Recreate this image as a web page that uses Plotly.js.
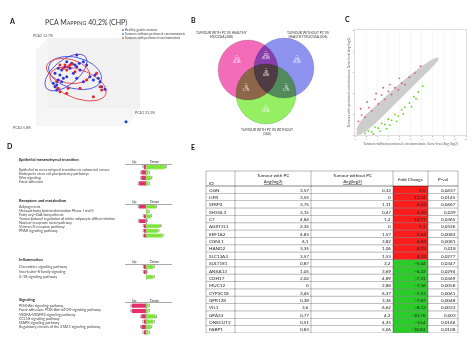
<!DOCTYPE html>
<html>
<head>
<meta charset="utf-8">
<script src="https://cdn.plot.ly/plotly-3.0.1.min.js"></script>
<style>
html,body{margin:0;padding:0;background:#fff;}
#chart{width:474px;height:347px;}
</style>
</head>
<body>
<div id="chart"></div>
<script>
// ---------- A: PCA mapping (projected PC scores) ----------
const pcaLegend = ['Healthy gastric mucosa', 'Tumours without peritoneal carcinomatosis', 'Tumours with peritoneal carcinomatosis'];
const pcaHealthyX = [-17.9, -21.8, -15.9, -32.1, -26.9, -34.6, -28.2, -32.1, -34.6, -29.5, -12.8, -3.8, 0, 3.8, -15.4, -10.3, -17.9];
const pcaHealthyY = [23.2, 16.2, 16.2, 12.0, 13.3, 7.7, 3.5, 2.1, -3.5, 0.7, 0.7, 6.3, 0.7, -5.7, 10.5, 14.7, 13.3];
const pcaNoPcX = [-25.6, -19.2, -12.8, -29.5, -23.1, -30.8, -25.6, -35.9, -33.3, -17.9, -7.7, -1.3, 1.3, -5.1, -20.5, -33.3, 20];
const pcaNoPcY = [17.5, 14.7, 17.5, 10.5, 12.0, 6.3, 4.9, -0.7, -6.3, 3.5, 4.9, 3.5, -3.5, 2.1, 7.7, -2.1, -33];
const pcaPcX = [-21, -24.4, -25.6, -26.9, -30.8, -19.2, -33.3, -32.1, -24.4, -30.8, -25.6, -15.4, -5.1, -2.6, 0, 1.3, -23.1, -28.2, -10.3];
const pcaPcY = [15.5, 13.3, 10.5, 14.7, 14.7, 9.1, 0.7, -4.9, -4.9, -7.7, -9.1, -4.9, -12.0, 7.7, -3.5, -6.3, 14.7, 12.0, 2.1];
// group confidence ellipses: 0 healthy, 1 without PC, 2 with PC
const ellGroup = [0, 1, 2, 2];
const ellCx = [-26.2, -19.2, -16.9, -24.6];
const ellCy = [8.4, 8.0, -1.3, 9.7];
const ellA = [20, 21, 23, 17];
const ellB = [10, 13, 12, 10];
const ellAngle = [43, -18, -23, -15];

// ---------- B: Venn diagram of differentially expressed genes ----------
const vennSets = ['TUMOUR WITH PC VS HEALTHY<br>MUCOSA (308)', 'TUMOUR WITHOUT PC VS<br>HEALTHY MUCOSA (306)', 'TUMOUR WITH PC VS WITHOUT<br>(160)'];
const vennRegions = ['withPc', 'withoutPc', 'pcVsNoPc', 'withPc&withoutPc', 'withPc&pcVsNoPc', 'withoutPc&pcVsNoPc', 'all'];
const vennCounts = [150, 148, 112, 120, 10, 10, 28];

// ---------- C: scatter of average expression ----------
const bandX = [0.3, 1, 2, 4, 6, 8, 10, 12, 14, 15];
const bandUpper = [1.3, 2.6, 3.9, 5.9, 7.8, 9.7, 11.5, 13.1, 14.5, 14.8];
const bandLower = [0.0, 0.1, 0.7, 2.5, 4.5, 6.6, 8.7, 10.9, 13.0, 14.2];
const upX = [0.6, 1.2, 1.8, 2.5, 3.0, 3.6, 4.2, 4.8, 5.4, 6.0, 6.6, 7.2, 7.8, 8.4, 9.0, 2.2, 1.0, 3.8, 6.3, 9.8, 10.8, 11.8, 5.1, 8.0];
const upY = [2.6, 3.8, 3.4, 5.2, 4.6, 6.8, 5.9, 7.6, 6.8, 8.3, 7.7, 9.0, 8.6, 9.9, 9.6, 6.3, 5.0, 7.9, 9.6, 11.0, 11.8, 13.1, 9.0, 10.8];
const downX = [1.8, 2.4, 3.0, 3.6, 4.2, 4.8, 5.4, 6.0, 6.6, 7.2, 7.8, 8.4, 9.0, 9.8, 10.6, 11.4, 12.2, 3.3, 4.5, 6.3, 7.5, 8.7, 10.2, 11.0, 5.7];
const downY = [0.3, 0.8, 0.6, 1.5, 1.3, 2.2, 2.0, 3.0, 2.8, 3.9, 3.6, 4.8, 5.3, 6.1, 7.3, 8.2, 9.3, 0.2, 0.7, 1.9, 2.6, 4.0, 5.4, 6.9, 1.2];

// ---------- D: pathway enrichment, up / down regulated genes ----------
const dGroups = ['Epithelial mesenchymal transition', 'Receptors and metabolism', 'Inflammation', 'Signaling'];
const dPath1 = ['Epithelial to mesenchymal transition in colorectal cancer', 'Embryonic stem cell pluripotency pathways', 'Wnt signaling', 'Focal adhesion'];
const dUp1 = [1, 2, 2, 3];
const dDown1 = [8, 1, 2, 1];
const dPath2 = ['Adipogenesis', 'Metapathway biotransformation Phase I and II', 'Fatty acyl-CoA biosynthesis', 'Transcriptional regulation of white adipocyte differentiation', 'Nuclear receptors meta-pathway', 'Vitamin D receptor pathway', 'PPAR signaling pathway'];
const dUp2 = [3, 0, 1, 3, 1, 1, 1];
const dDown2 = [4, 1, 2, 0, 6, 5, 7];
const dPath3 = ['Chemokine signaling pathway', 'Interleukin-8 family signaling', 'IL-18 signaling pathway'];
const dUp3 = [1, 1, 0];
const dDown3 = [3, 0, 3];
const dPath4 = ['PI3K-Akt signaling pathway', 'Focal adhesion: PI3K-Akt-mTOR-signaling pathway', 'VEGFA-VEGFR2 signaling pathway', 'CCL18 signaling pathway', 'MAPK signaling pathway', 'Regulatory circuits of the STAT3 signaling pathway'];
const dUp4 = [6, 6, 2, 1, 2, 1];
const dDown4 = [1, 1, 4, 3, 2, 1];

// ---------- E: top differentially expressed genes ----------
const tableHeader = ['ID', 'Tumour with PC', 'Tumour without PC', 'Fold Change', 'P-val'];
const geneIds = ['OGN', 'LIFR', 'SFRP2', 'SH3GL3', 'C7', 'AGXT2L1', 'EEF1A2', 'CGNL1', 'HAND2', 'SLC13A3', 'SULT1E1', 'ANXA13', 'CDH17', 'MUC12', 'CYP2C18', 'GPR128', 'VIL1', 'GPA33', 'ONECUT2', 'FABP1'];
const avgWithPc = [3.57, 3.55, 3.75, 3.15, 4.84, 2.35, 4.83, 6.1, 3.35, 3.57, 0.87, 1.05, 2.02, 0, 3.45, 0.38, 3.6, 0.77, 0.51, 0.83];
const avgWithoutPc = [0.32, 0, 1.11, 0.47, 1.2, 0, 1.57, 3.82, 1.06, 1.53, 3.2, 3.69, 4.89, 2.88, 6.37, 3.36, 6.62, 4.2, 4.25, 5.06];
const foldChange = [9.5, 11.74, 6.22, 6.35, 12.71, 5.1, 9.64, 4.83, 4.75, 4.12, -5.04, -6.22, -7.31, -7.36, -7.53, -7.87, -8.12, -10.76, -13.4, -18.83];
const pValue = ['0,0437', '0,0145', '0,0467', '0,039', '0,0365', '0,0326', '0,0083', '0,0081', '0,018', '0,0277', '0,0347', '0,0294', '0,0369', '0,0058', '0,0061', '0,0048', '0,0033', '0,003', '0,0166', '0,0108'];

// ================= drawing =================
const W = 474, H = 347;
const FONT = 'Lato, "Open Sans", sans-serif';
const fx = x => x / W;
const fy = y => 1 - y / H;
const annotations = [];
function txt(t, x, y, o) {
  annotations.push(Object.assign({
    text: t, x: fx(x), y: fy(y), xref: 'paper', yref: 'paper', showarrow: false,
    xanchor: 'left', yanchor: 'middle', borderpad: 0,
    font: {size: 4, color: '#333', family: FONT}
  }, o || {}));
}
const shapes = [];
function poly(pts, fill) {
  const d = pts.map((p, i) => (i ? 'L' : 'M') + fx(p[0]) + ',' + fy(p[1])).join(' ') + ' Z';
  shapes.push({type: 'path', xref: 'paper', yref: 'paper', path: d, fillcolor: fill, line: {width: 0}, layer: 'below'});
}
function hline(x0, x1, y, color, w) {
  shapes.push({type: 'line', xref: 'paper', yref: 'paper', x0: fx(x0), x1: fx(x1), y0: fy(y), y1: fy(y), line: {color: color, width: w}, layer: 'above'});
}
function vline(x, y0, y1, color, w) {
  shapes.push({type: 'line', xref: 'paper', yref: 'paper', x0: fx(x), x1: fx(x), y0: fy(y0), y1: fy(y1), line: {color: color, width: w}, layer: 'above'});
}

// panel letters
[['A', 12, 21], ['B', 193, 20], ['C', 347, 19], ['D', 10, 146], ['E', 193, 147]].forEach(l =>
  txt('<b>' + l[0] + '</b>', l[1], l[2], {font: {size: 7, color: '#111', family: FONT}, xanchor: 'center'}));

const traces = [];

// ---- A ----
poly([[48, 38], [140, 38], [140, 108], [48, 108]], '#f1f1f1');
poly([[36, 50], [48, 38], [48, 108], [36, 126]], '#f5f5f5');
poly([[36, 126], [48, 108], [140, 108], [128, 126]], '#f6f6f6');
const grpColors = ['#3b2fd6', '#1f3ae8', '#e5262b'];
const grpX = [pcaHealthyX, pcaNoPcX, pcaPcX], grpY = [pcaHealthyY, pcaNoPcY, pcaPcY];
for (let k = 0; k < ellCx.length; k++) {
  const ex = [], ey = [], th = ellAngle[k] * Math.PI / 180;
  for (let i = 0; i <= 72; i++) {
    const t = i / 72 * 2 * Math.PI;
    const u = ellA[k] * Math.cos(t), v = ellB[k] * Math.sin(t);
    ex.push(ellCx[k] + u * Math.cos(th) - v * Math.sin(th));
    ey.push(ellCy[k] + u * Math.sin(th) + v * Math.cos(th));
  }
  traces.push({x: ex, y: ey, xaxis: 'x', yaxis: 'y', mode: 'lines', type: 'scatter',
    line: {color: grpColors[ellGroup[k]], width: 0.8}, showlegend: false});
}
for (let g = 0; g < 3; g++) {
  traces.push({x: grpX[g], y: grpY[g], xaxis: 'x', yaxis: 'y', mode: 'markers', type: 'scatter',
    marker: {color: grpColors[g], size: 3}, showlegend: false});
  txt('<span style="color:' + grpColors[g] + '">●</span> ' + pcaLegend[g], 121, 29.5 + g * 4, {font: {size: 3.2, color: '#444', family: FONT}});
}
txt('PCA M<span style="font-size:5.4px">APPING</span> 40,2% (CHP)', 86, 22, {xanchor: 'center', font: {size: 7, color: '#333', family: FONT}});
txt('PCA2 12,7%', 32, 35, {font: {size: 3.6, color: '#555', family: FONT}});
txt('PCA1 23,2%', 134, 113, {font: {size: 3.6, color: '#555', family: FONT}});
txt('PCA3 5,8%', 12, 127, {font: {size: 3.6, color: '#555', family: FONT}});

// ---- B ----
const vennCirc = [[248, 70, '#f36cb9'], [284, 68, '#8d93ef'], [266, 94, '#94ef63']];
vennCirc.forEach(c => shapes.push({type: 'circle', xref: 'paper', yref: 'paper',
  x0: fx(c[0] - 30), x1: fx(c[0] + 30), y0: fy(c[1] + 30), y1: fy(c[1] - 30),
  fillcolor: c[2], line: {color: 'rgba(60,60,60,0.35)', width: 0.5}, layer: 'above'}));
const vennPos = [[237, 59], [297, 59], [266.7, 107], [266.7, 54], [246, 86], [286.7, 86], [266.7, 71]];
const vennTotal = vennCounts.reduce((a, b) => a + b, 0);
vennRegions.forEach((r, i) => txt('▪<br>' + vennCounts[i] + '<br>' + (100 * vennCounts[i] / vennTotal).toFixed(1).replace('.', ',') + '%',
  vennPos[i][0], vennPos[i][1], {xanchor: 'center', font: {size: 2.8, color: '#fff', family: FONT}}));
txt(vennSets[0], 222, 35, {xanchor: 'center', font: {size: 3.4, color: '#333', family: FONT}});
txt(vennSets[1], 308, 35, {xanchor: 'center', font: {size: 3.4, color: '#333', family: FONT}});
txt(vennSets[2], 267, 132, {xanchor: 'center', font: {size: 3.4, color: '#333', family: FONT}});

// ---- C ----
traces.push({x: bandX.concat(bandX.slice().reverse()), y: bandUpper.concat(bandLower.slice().reverse()),
  xaxis: 'x3', yaxis: 'y3', type: 'scatter', mode: 'lines', fill: 'toself', fillcolor: '#cdcdcd',
  line: {width: 0, color: '#cdcdcd'}, showlegend: false});
traces.push({x: upX, y: upY, xaxis: 'x3', yaxis: 'y3', type: 'scatter', mode: 'markers',
  marker: {color: '#ea4f86', size: 1.8}, showlegend: false});
traces.push({x: downX, y: downY, xaxis: 'x3', yaxis: 'y3', type: 'scatter', mode: 'markers',
  marker: {color: '#5ed61f', size: 1.8}, showlegend: false});

// ---- D ----
const dPaths = [dPath1, dPath2, dPath3, dPath4];
const dUps = [dUp1, dUp2, dUp3, dUp4];
const dDowns = [dDown1, dDown2, dDown3, dDown4];
const dHeadY = [159, 200, 259, 299.5];
const dTextY0 = [169, 206, 266.7, 305.7];
const dTextStep = [4.2, 4.13, 4.8, 4.15];
const dDomain = [[164.3, 186], [204.3, 238.1], [264.5, 279.5], [303, 335]];
const dUpDownY = [162, 201.6, 261.8, 300.6];
const layoutAxes = {};
for (let g = 0; g < 4; g++) {
  txt('<b>' + dGroups[g] + '</b>', 18, dHeadY[g], {font: {size: 4, color: '#222', family: FONT}});
  dPaths[g].forEach((p, i) => txt(p, 18, dTextY0[g] + i * dTextStep[g], {font: {size: 3.7, color: '#444', family: FONT}}));
  const ax = g + 4;
  traces.push({type: 'bar', orientation: 'h', y: dPaths[g], x: dUps[g].map(v => -v), text: dUps[g].map(String),
    textposition: 'outside', cliponaxis: false, textfont: {size: 3.6, color: '#333', family: FONT},
    marker: {color: '#e3306c', line: {width: 0}}, xaxis: 'x' + ax, yaxis: 'y' + ax, showlegend: false});
  traces.push({type: 'bar', orientation: 'h', y: dPaths[g], x: dDowns[g], text: dDowns[g].map(String),
    textposition: 'outside', cliponaxis: false, textfont: {size: 3.6, color: '#333', family: FONT},
    marker: {color: '#7fe33c', line: {color: '#c4f5a0', width: 0.4}}, xaxis: 'x' + ax, yaxis: 'y' + ax, showlegend: false});
  layoutAxes['xaxis' + ax] = {domain: [fx(125), fx(172)], range: [-9, 11], anchor: 'y' + ax, side: 'top',
    showline: true, linecolor: '#555', linewidth: 0.5, showticklabels: false, ticks: '', showgrid: false,
    zeroline: true, zerolinecolor: '#555', zerolinewidth: 0.5, fixedrange: true};
  layoutAxes['yaxis' + ax] = {domain: [fy(dDomain[g][1]), fy(dDomain[g][0])], anchor: 'x' + ax, type: 'category',
    categoryorder: 'array', categoryarray: dPaths[g], autorange: 'reversed', visible: false, fixedrange: true};
  txt('Up', 134, dUpDownY[g], {xanchor: 'center', font: {size: 3.4, color: '#333', family: FONT}});
  txt('Down', 149, dUpDownY[g], {font: {size: 3.4, color: '#333', family: FONT}});
}

// ---- E: table drawn on a category axis (one row per gene) ----
const colEdges = [206, 235, 311, 393, 428, 458];
const tTop = 171, tHead = 186, tBottom = 333;
const comma = v => String(v).replace('.', ',');
traces.push({type: 'heatmap', x: [tableHeader[3]], y: geneIds, z: foldChange.map(v => [v > 0 ? 1 : -1]),
  zmin: -1, zmax: 1, showscale: false, xaxis: 'x8', yaxis: 'y8',
  colorscale: [[0, '#2bcc29'], [0.5, '#2bcc29'], [0.5, '#fb1c1c'], [1, '#fb1c1c']]});
layoutAxes.xaxis8 = {domain: [fx(colEdges[3]), fx(colEdges[4])], anchor: 'y8', visible: false, fixedrange: true};
layoutAxes.yaxis8 = {domain: [fy(tBottom), fy(tHead)], anchor: 'x8', type: 'category', categoryorder: 'array',
  categoryarray: geneIds, range: [geneIds.length - 0.5, -0.5], visible: false, fixedrange: true};
const cellFont = {size: 4.6, color: '#222', family: FONT};
const cols = [geneIds, avgWithPc.map(comma), avgWithoutPc.map(comma), foldChange.map(comma), pValue];
geneIds.forEach((g, i) => {
  cols.forEach((c, j) => {
    const left = j === 0;
    annotations.push({text: c[i], xref: 'paper', yref: 'y8', x: fx(left ? colEdges[0] + 1.5 : colEdges[j + 1] - 1.5),
      y: g, xanchor: left ? 'left' : 'right', yanchor: 'middle', showarrow: false, borderpad: 0, font: cellFont});
  });
  shapes.push({type: 'line', xref: 'paper', yref: 'y8', x0: fx(colEdges[0]), x1: fx(colEdges[5]), y0: i + 0.5, y1: i + 0.5,
    line: {color: '#8a8a8a', width: 0.6}, layer: 'above'});
});
hline(colEdges[0], colEdges[5], tTop, '#8a8a8a', 0.6);
hline(colEdges[0], colEdges[5], tHead, '#555', 0.7);
colEdges.forEach(x => vline(x, tTop, tBottom, '#8a8a8a', 0.6));
txt(tableHeader[0], colEdges[0] + 1.5, 182.5, {font: cellFont});
txt(tableHeader[1] + '<br><u>Avg(log2)</u>', (colEdges[1] + colEdges[2]) / 2, 178.2, {xanchor: 'center', font: cellFont});
txt(tableHeader[2] + '<br><u>Avg(log2)</u>', (colEdges[2] + colEdges[3]) / 2, 178.2, {xanchor: 'center', font: cellFont});
txt(tableHeader[3], (colEdges[3] + colEdges[4]) / 2, 178.5, {xanchor: 'center', font: cellFont});
txt(tableHeader[4], (colEdges[4] + colEdges[5]) / 2, 178.5, {xanchor: 'center', font: cellFont});

const layout = Object.assign({
  width: W, height: H, margin: {l: 0, r: 0, t: 0, b: 0}, paper_bgcolor: '#fff', plot_bgcolor: 'rgba(0,0,0,0)',
  font: {family: FONT, color: '#333'}, showlegend: false, barmode: 'overlay', bargap: 0.22,
  xaxis: {domain: [fx(35), fx(165)], range: [-50, 50], visible: false, fixedrange: true, anchor: 'y'},
  yaxis: {domain: [fy(130), fy(35)], range: [-40, 40], visible: false, fixedrange: true, anchor: 'x'},
  xaxis3: {domain: [fx(355), fx(466)], range: [0, 20], anchor: 'y3', dtick: 2, showline: true, mirror: true,
    linecolor: '#c8c8c8', linewidth: 0.6, showgrid: true, gridcolor: '#f0f0f0', gridwidth: 0.5, zeroline: false,
    ticks: 'outside', ticklen: 1.5, tickcolor: '#bbb', tickfont: {size: 2.6, color: '#999'},
    title: {text: 'Tumours without peritoneal carcinomatosis, Gene-level Avg (log2)', font: {size: 3.3, color: '#666'}, standoff: 2}},
  yaxis3: {domain: [fy(135), fy(30)], range: [0, 20], anchor: 'x3', dtick: 4, showline: true, mirror: true,
    linecolor: '#c8c8c8', linewidth: 0.6, showgrid: false, zeroline: false,
    ticks: 'outside', ticklen: 1.5, tickcolor: '#bbb', showticklabels: false,
    title: {text: 'Tumours with peritoneal carcinomatosis, Gene-level Avg (log2)', font: {size: 3.3, color: '#666'}, standoff: 2}},
  shapes: shapes, annotations: annotations
}, layoutAxes);

Plotly.newPlot('chart', traces, layout, {staticPlot: true, displayModeBar: false}).then(() => {
  // overlapping Venn sets mix their colours
  document.querySelectorAll('.layer-above .shapelayer path').forEach(p => {
    if (p.style.fill && p.style.fill !== 'none' && p.style.fill !== 'transparent') p.style.mixBlendMode = 'multiply';
  });
});
</script>
</body>
</html>
